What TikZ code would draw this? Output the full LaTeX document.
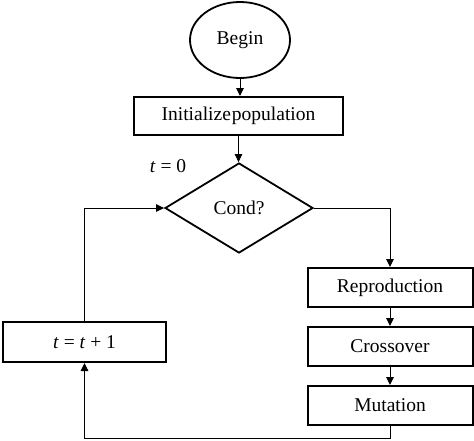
\documentclass[tikz,border=0pt]{standalone}
\usepackage{fontspec}
\setmainfont{Liberation Serif}
\usetikzlibrary{shapes.geometric,arrows.meta}
\begin{document}
\begin{tikzpicture}[x=1pt,y=-1pt,
  boxnode/.style={draw,line width=2pt,inner sep=0pt},
  conn/.style={line width=1pt,-{Triangle[length=8pt,width=7.5pt]}},
  font=\fontsize{19.5}{22}\selectfont]
\useasboundingbox (0,0) rectangle (474,440);
\node[draw,ellipse,line width=1.8pt,minimum width=100pt,minimum height=76pt,inner sep=0pt] (begin) at (240,40) {Begin};
\node[boxnode,minimum width=209pt,minimum height=38pt] (init) at (238.5,116) {Initialize\hspace{0.05em}population};
\node[draw,diamond,line width=1.8pt,minimum width=148pt,minimum height=90pt,inner sep=0pt] (cond) at (239,208) {Cond?};
\node (t0) at (168,166) {\textit{t} = 0};
\node[boxnode,minimum width=165pt,minimum height=39pt] (rep) at (390,287.5) {Reproduction};
\node[boxnode,minimum width=165pt,minimum height=39pt] (cross) at (390,346.5) {Crossover};
\node[boxnode,minimum width=165pt,minimum height=39pt] (mut) at (390,405.5) {Mutation};
\node[boxnode,minimum width=163pt,minimum height=40pt] (tinc) at (84.5,342) {\textit{t} = \textit{t} + 1};
\coordinate (bl) at (86,438);
\draw[conn] (begin.south) -- (begin.south |- init.north);
\draw[conn] (init.south) -- (init.south |- cond.north);
\draw[conn] (cond.east) -| (rep.north);
\draw[conn] (rep.south) -- (cross.north);
\draw[conn] (cross.south) -- (mut.north);
\draw[conn] (mut.south) -- (mut.south |- bl) -| (tinc.south);
\draw[conn] (tinc.north) |- (cond.west);
\end{tikzpicture}
\end{document}
